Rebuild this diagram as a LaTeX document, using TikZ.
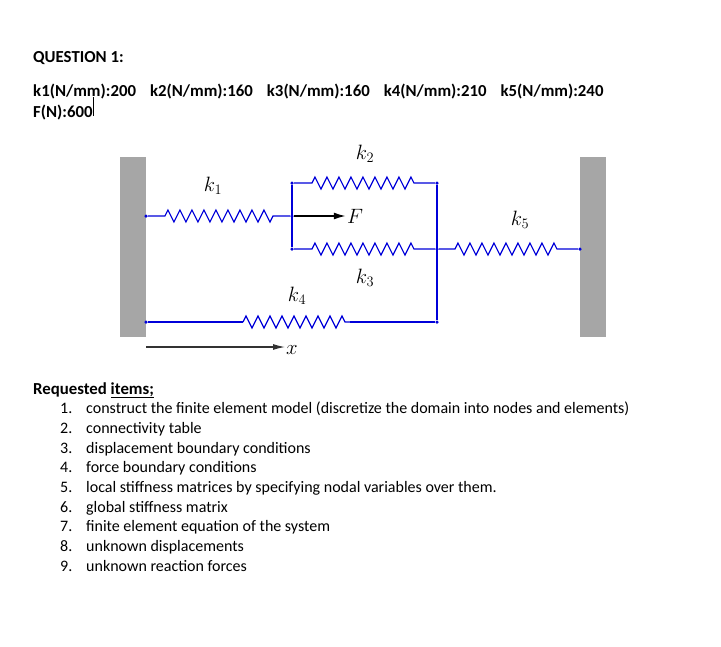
\documentclass[tikz,border=0pt]{standalone}
\usepackage{fontspec}
\setmainfont{Carlito}
\usetikzlibrary{decorations.pathmorphing,arrows.meta}
\begin{document}
\begin{tikzpicture}[x=1pt,y=-1pt,
  wall/.style={fill=gray!70,draw=none},
  wire/.style={draw=blue!85!black,line width=1.2pt},
  spring/.style={wire,decorate,decoration={zigzag,amplitude=6pt,segment length=12pt,pre length=#1,post length=#1}},
  spring/.default=16pt,
  dot/.style={circle,fill=blue!85!black,inner sep=0pt,minimum size=3.5pt},
  lab/.style={font=\fontsize{22pt}{24pt}\selectfont},
  txt/.style={anchor=base west,inner sep=0pt,font=\fontsize{16pt}{18pt}\selectfont},
  btxt/.style={txt,font=\fontsize{16.8pt}{19pt}\selectfont\bfseries}]
\useasboundingbox (0,0) rectangle (721,646);
\fill[white] (0,0) rectangle (721,646);
% header
\node[btxt] (q) at (33,62) {QUESTION 1:};
\node[btxt] (kv) at (33,96) {k1(N/mm):200\hspace{14pt}k2(N/mm):160\hspace{14pt}k3(N/mm):160\hspace{14pt}k4(N/mm):210\hspace{14pt}k5(N/mm):240};
\node[btxt] (f) at (33,117) {F(N):600};
\draw[line width=0.9pt] (f.east)+(1,-15) -- +(1,4);
% walls
\fill[wall] (120,157) rectangle (146,337);
\fill[wall] (580,157) rectangle (606,337);
% points
\node[dot] (w1) at (146,216) {};
\node[dot] (j1) at (292,216) {};
\node[dot] (t1) at (292,183) {};
\node[dot] (b1) at (292,249) {};
\node[dot] (t2) at (437,183) {};
\node[dot] (j2) at (437,249) {};
\node[dot] (l4) at (437,322) {};
\node[dot] (w4) at (146,322) {};
\node[dot] (w5) at (580,249) {};
\coordinate (s4a) at (243,322);
\coordinate (s4b) at (350,322);
% springs
\draw[spring=17pt] (w1) -- (j1);
\draw[spring=18pt] (t1) -- (t2);
\draw[spring=18pt] (b1) -- (j2);
\draw[spring=16pt] (j2) -- (w5);
\draw[wire] (w4) -- (s4a);
\draw[spring=0pt] (s4a) -- (s4b);
\draw[wire] (s4b) -- (l4);
\draw[wire] (t1) -- (b1);
\draw[wire] (t2) -- (l4);
% labels
\node[lab] (k1) at (213,186) {$k_1$};
\node[lab] (k2) at (365,154) {$k_2$};
\node[lab] (k3) at (365,278) {$k_3$};
\node[lab] (k4) at (297,296) {$k_4$};
\node[lab] (k5) at (520,220) {$k_5$};
% force
\node[lab,inner sep=1pt] (F) at (355,216) {$F$};
\draw[-{Latex[length=12pt,width=7pt]},line width=1.6pt] (j1) -- (F.west);
% axis
\coordinate (xa) at (146,347);
\node[lab,inner sep=1pt] (xl) at (292,350) {$x$};
\draw[-{Latex[length=12pt,width=6pt]},line width=1.1pt,gray!40!black] (xa) -- (xl.west |- xa);
% requested items
\node[btxt] (ri) at (33,394) {Requested \underline{items;}};
\foreach \i/\t in {1/construct the finite element model (discretize the domain into nodes and elements),
  2/connectivity table,3/displacement boundary conditions,4/force boundary conditions,
  5/local stiffness matrices by specifying nodal variables over them.,6/global stiffness matrix,
  7/finite element equation of the system,8/unknown displacements,9/unknown reaction forces}{
  \node[txt] (n\i) at (60,394+\i*19.7) {\i.};
  \node[txt] (t\i) at (86,394+\i*19.7) {\t};
}
\end{tikzpicture}
\end{document}
